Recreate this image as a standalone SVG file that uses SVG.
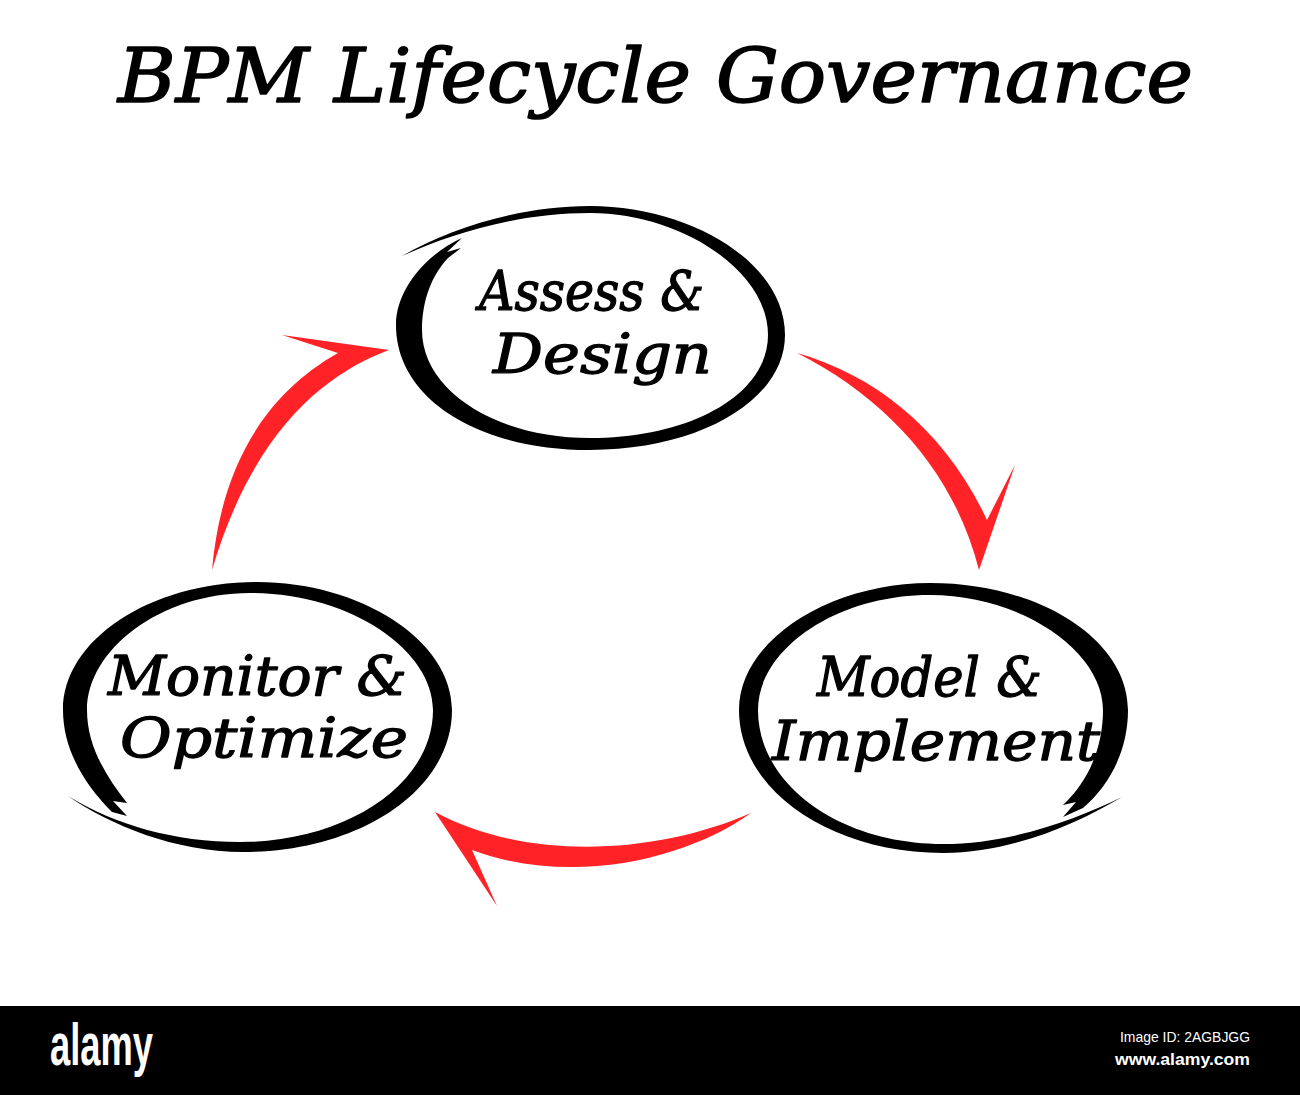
<svg xmlns="http://www.w3.org/2000/svg" width="1300" height="1095" viewBox="0 0 1300 1095">
<style>
.h{font-family:"DejaVu Serif","Liberation Serif",serif;font-style:italic;fill:#000;stroke:#000;stroke-linejoin:round}
.t{font-size:74px;stroke-width:1.6px}
.l{font-size:54px;stroke-width:1.3px}
.b{fill:#000;fill-rule:evenodd}
.a{fill:#ff2226}
.w{font-family:"Liberation Sans",Arial,sans-serif;fill:#fff}
</style>
<rect width="1300" height="1095" fill="#fff"/>
<text id="title" class="h t" x="118" y="102" textLength="1075" lengthAdjust="spacingAndGlyphs">BPM Lifecycle Governance</text>
<g id="connectors">
<path class="a" d="M212,570C220,480 255,400 338,353L282,335L389,350C330,372 255,425 212,570Z"/>
<path class="a" d="M797,353C875,375 945,430 987,520L1015,465L979,570C955,475 890,400 797,353Z"/>
<path class="a" d="M751,813C660,853 530,863 435,812L497,906L472,850C575,888 690,857 751,813Z"/>
</g>
<g id="node-assess">
<path class="b" d="M402,256C450,228 520,206 590,206C690,206 785,262 785,335C785,400 700,450 590,450C480,450 396,400 396,325C396,290 425,255 462,238L447,252L461,248L448,258C432,275 422,300 422,330C422,390 495,438 590,438C690,438 768,395 768,335C768,270 680,213 590,213C520,213 455,232 402,256Z"/>
<text class="h l" x="479" y="310" textLength="225" lengthAdjust="spacingAndGlyphs">Assess &amp;</text>
<text class="h l" x="493" y="373" textLength="219" lengthAdjust="spacingAndGlyphs">Design</text>
</g>
<g id="node-model">
<path class="b" d="M1122,797C1075,825 1010,853 943,853C830,853 739,790 739,710C739,640 830,583 930,583C1040,583 1128,640 1128,710C1128,750 1110,785 1083,808L1063,817L1076,802L1063,805C1090,780 1103,745 1103,710C1103,650 1020,595 930,595C835,595 758,650 758,710C758,785 840,844 943,844C1010,844 1075,820 1122,797Z"/>
<text class="h l" x="817" y="696" textLength="225" lengthAdjust="spacingAndGlyphs">Model &amp;</text>
<text class="h l" x="772" y="760" textLength="328" lengthAdjust="spacingAndGlyphs">Implement</text>
</g>
<g id="node-monitor">
<path class="b" d="M68,796C110,825 175,852 243,852C360,852 452,790 452,710C452,640 360,582 257,582C150,582 63,640 63,710C63,745 80,780 112,812L127,816L113,801L127,803C105,775 87,745 87,710C87,650 160,593 250,593C350,593 433,650 433,710C433,785 345,842 240,842C175,842 115,825 68,796Z"/>
<text class="h l" x="108" y="695" textLength="299" lengthAdjust="spacingAndGlyphs">Monitor &amp;</text>
<text class="h l" x="120" y="757" textLength="288" lengthAdjust="spacingAndGlyphs">Optimize</text>
</g>
<g id="footer">
<rect x="0" y="1006" width="1300" height="89" fill="#000"/>
<text class="w" x="50" y="1065" font-size="60" font-weight="700" textLength="103" lengthAdjust="spacingAndGlyphs">alamy</text>
<text class="w" x="1120" y="1042" font-size="15" textLength="130" lengthAdjust="spacingAndGlyphs">Image ID: 2AGBJGG</text>
<text class="w" x="1115" y="1065" font-size="17" font-weight="700" textLength="135" lengthAdjust="spacingAndGlyphs">www.alamy.com</text>
</g>
</svg>
